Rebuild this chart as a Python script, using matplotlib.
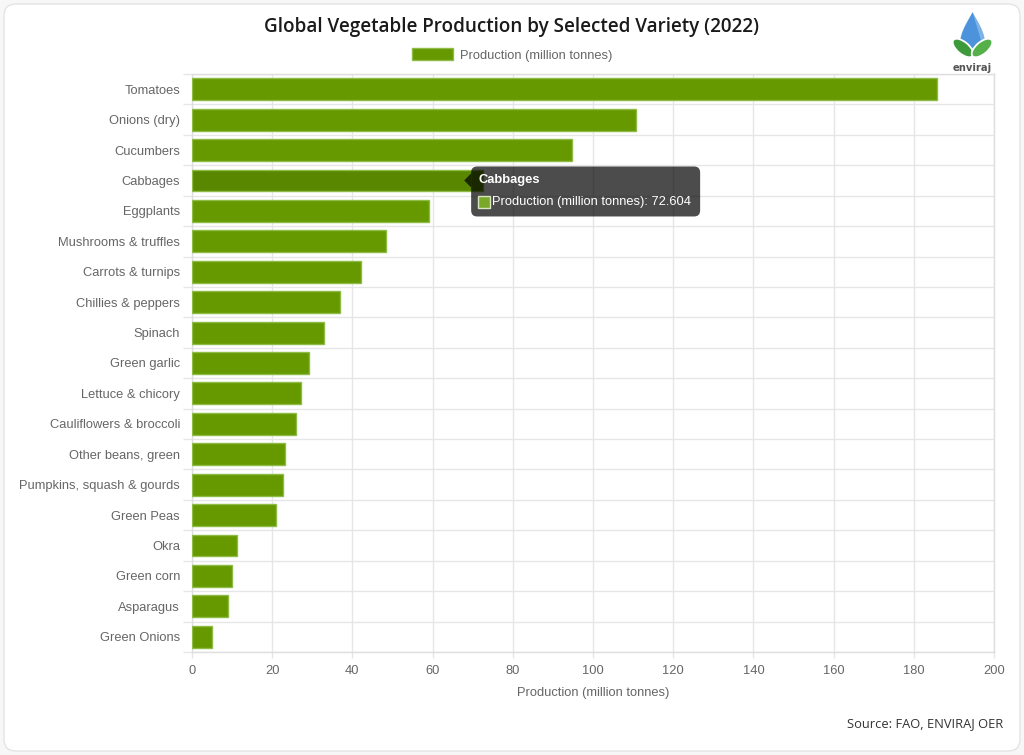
import numpy as np
import matplotlib.pyplot as plt
from matplotlib.patches import FancyBboxPatch, Polygon, Ellipse, Rectangle

# Données (FAO 2022, millions de tonnes)
categories = [
    'Tomatoes', 'Onions (dry)', 'Cucumbers', 'Cabbages', 'Eggplants',
    'Mushrooms & truffles', 'Carrots & turnips', 'Chillies & peppers',
    'Spinach', 'Green garlic', 'Lettuce & chicory', 'Cauliflowers & broccoli',
    'Other beans, green', 'Pumpkins, squash & gourds', 'Green Peas', 'Okra',
    'Green corn', 'Asparagus', 'Green Onions',
]
production = [185.9, 110.6, 94.7, 72.604, 59.2, 48.3, 42.2, 37.0, 33.0, 29.1,
              27.1, 26.0, 23.3, 22.8, 21.0, 11.3, 9.9, 8.9, 5.0]
x_ticks = [0, 20, 40, 60, 80, 100, 120, 140, 160, 180, 200]
series_name = 'Production (million tonnes)'
hover_item = 'Cabbages'

W, H = 1024, 755
GRID = '#e6e6e6'
GREEN = '#669900'
LABEL = '#666666'
TICK_FS = 9.3


def fx(x):
    return x / W


def fy(y):
    return 1 - y / H


fig = plt.figure(figsize=(W / 100, H / 100), dpi=100, facecolor='#f7f7f7')

# carte blanche arrondie
card = FancyBboxPatch((fx(4), fy(751)), fx(1016), 747 / H,
                      boxstyle='round,pad=0,rounding_size=0.0117',
                      mutation_aspect=W / H, transform=fig.transFigure,
                      facecolor='white', edgecolor='#e4e4e4', lw=1, zorder=-1)
fig.add_artist(card)

ax = fig.add_axes([fx(192), fy(652), fx(994) - fx(192), (652 - 74) / H])
ax.set_facecolor('white')

y = np.arange(len(categories))
colors = ['#5a8700' if c == hover_item else GREEN for c in categories]
ax.barh(y, production, height=0.72, color=colors, edgecolor='#8dbb45',
        linewidth=1, zorder=3)

ax.set_xlim(0, 200)
ax.set_ylim(len(categories) - 0.5, -0.5)
ax.set_xticks(x_ticks)
ax.set_yticks(y)
ax.set_yticklabels(categories)
ax.set_yticks(np.arange(len(categories) + 1) - 0.5, minor=True)

ax.set_axisbelow(True)
ax.grid(axis='x', which='major', color=GRID, lw=1)
ax.grid(axis='y', which='minor', color=GRID, lw=1)
ax.grid(axis='y', which='major', visible=False)

ax.tick_params(axis='y', which='major', length=0, pad=8.6,
               labelsize=TICK_FS, labelcolor=LABEL)
ax.tick_params(axis='y', which='minor', length=6.5, width=1, color=GRID)
ax.tick_params(axis='x', which='major', length=4.3, width=1, color=GRID,
               pad=5, labelsize=TICK_FS, labelcolor=LABEL)
for s in ax.spines.values():
    s.set_color('#dedede')
    s.set_linewidth(1)

for lab in ax.get_xticklabels() + ax.get_yticklabels():
    lab.set_family('Liberation Sans')

fig.text(fx(593), fy(693), series_name, ha='center', va='center',
         fontsize=TICK_FS, color=LABEL, family='Liberation Sans')

# titre, légende, source
fig.text(fx(512), fy(27), 'Global Vegetable Production by Selected Variety (2022)',
         ha='center', va='center', fontsize=13.6, color='#1a1a1a',
         family='Open Sans', weight='semibold')

handle = Rectangle((0, 0), 1, 1, facecolor=GREEN, edgecolor='#8dbb45', lw=1)
leg = fig.legend([handle], [series_name], loc='center',
                 bbox_to_anchor=(fx(512), fy(55)), frameon=False,
                 handlelength=3.2, handleheight=0.95, handletextpad=0.5,
                 prop={'family': 'Liberation Sans', 'size': TICK_FS})
for t in leg.get_texts():
    t.set_color(LABEL)

fig.text(fx(1003), fy(724), 'Source: FAO, ENVIRAJ OER', ha='right', va='center',
         fontsize=9.3, color='#333333', family='Open Sans')

# infobulle sur la barre survolée
idx = categories.index(hover_item)
val = production[idx]
ax_px, ay_px = ax.transData.transform((val, idx))
ay_top = H - ay_px
left, top, tw, th = ax_px - 12, ay_top - 14, 229, 50
tip = FancyBboxPatch((fx(left), fy(top + th)), fx(tw), th / H,
                     boxstyle='round,pad=0,rounding_size=0.0059',
                     mutation_aspect=W / H, transform=fig.transFigure,
                     facecolor='black', alpha=0.7, edgecolor='none', zorder=10)
fig.add_artist(tip)
caret = Polygon([(fx(left), fy(ay_top - 7)), (fx(left - 7), fy(ay_top)),
                 (fx(left), fy(ay_top + 7))], closed=True,
                transform=fig.transFigure, facecolor='black', alpha=0.7,
                edgecolor='none', zorder=10)
fig.add_artist(caret)
fig.text(fx(left + 7), fy(top + 14), hover_item, ha='left', va='center',
         fontsize=TICK_FS, color='white', weight='bold',
         family='Liberation Sans', zorder=11)
sw = Rectangle((fx(left + 7), fy(top + 42)), fx(12), 12 / H,
               transform=fig.transFigure, facecolor='#7aa829',
               edgecolor='#d8e6c0', lw=1, zorder=11)
fig.add_artist(sw)
fig.text(fx(left + 21), fy(top + 36), f'{series_name}: {val}', ha='left',
         va='center', fontsize=TICK_FS, color='white',
         family='Liberation Sans', zorder=11)

# logo enviraj (approximatif)
lg = fig.add_axes([fx(945), fy(80), fx(55), 70 / H])
lg.set_xlim(0, 55)
lg.set_ylim(70, 0)
lg.axis('off')
t = np.linspace(0, 2 * np.pi, 120)
drop_x = 27.5 + 17 * np.sin(t) * np.sin(t / 2) ** 1.3
drop_y = 24 - 22 * np.cos(t)
drop = np.column_stack([drop_x, drop_y])
lg.add_patch(Polygon(drop, closed=True, facecolor='#4d93dc', edgecolor='none'))
lg.add_patch(Polygon(drop[:45], closed=True, facecolor='#9cc8f0',
                     edgecolor='none', alpha=0.6))
lg.add_patch(Ellipse((18, 38), 25, 12, angle=40, facecolor='#3d9a3a',
                     edgecolor='white', lw=1.3))
lg.add_patch(Ellipse((37, 38), 25, 12, angle=-40, facecolor='#55b04a',
                     edgecolor='white', lw=1.3))
lg.text(27.5, 58, 'enviraj', ha='center', va='center', fontsize=7.2,
        color='#555555', weight='bold', family='DejaVu Sans')

fig.savefig('out.png', dpi=100, facecolor=fig.get_facecolor())
